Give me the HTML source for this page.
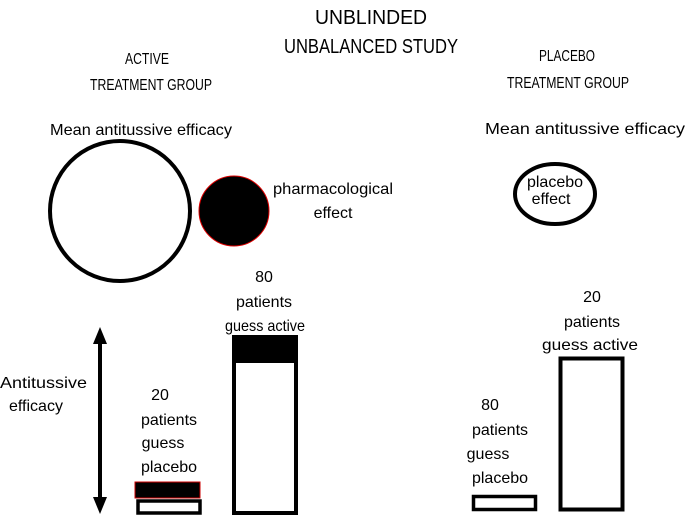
<!DOCTYPE html>
<html><head><meta charset="utf-8"><style>
html,body{margin:0;padding:0;background:#fff;}
svg{display:block;}
text{font-family:"Liberation Sans",sans-serif;fill:#000;}
</style></head><body>
<svg width="685" height="516" viewBox="0 0 685 516" xmlns="http://www.w3.org/2000/svg">
<g font-size="20" text-anchor="middle">
<text x="371" y="24" textLength="112" lengthAdjust="spacingAndGlyphs">UNBLINDED</text>
<text x="371" y="53" textLength="174" lengthAdjust="spacingAndGlyphs">UNBALANCED STUDY</text>
</g>
<g font-size="16" text-anchor="middle">
<text x="147" y="64" textLength="44" lengthAdjust="spacingAndGlyphs">ACTIVE</text>
<text x="151" y="90" textLength="122" lengthAdjust="spacingAndGlyphs">TREATMENT GROUP</text>
<text x="141" y="135" textLength="182" lengthAdjust="spacingAndGlyphs">Mean antitussive efficacy</text>
<text x="567" y="61" textLength="56" lengthAdjust="spacingAndGlyphs">PLACEBO</text>
<text x="568" y="88" textLength="122" lengthAdjust="spacingAndGlyphs">TREATMENT GROUP</text>
<text x="585" y="134" textLength="200" lengthAdjust="spacingAndGlyphs">Mean antitussive efficacy</text>

<text x="117" y="204">placebo</text>
<text x="117" y="226">effect</text>
<text x="333" y="194" textLength="120" lengthAdjust="spacingAndGlyphs">pharmacological</text>
<text x="333" y="218">effect</text>

<text x="555" y="187">placebo</text>
<text x="551" y="204">effect</text>

<text x="264" y="282">80</text>
<text x="264" y="307">patients</text>
<text x="265" y="331" textLength="80" lengthAdjust="spacingAndGlyphs">guess active</text>

<text x="592" y="302">20</text>
<text x="592" y="327">patients</text>
<text x="590" y="350" textLength="96" lengthAdjust="spacingAndGlyphs">guess active</text>

<text x="160" y="400">20</text>
<text x="169" y="425">patients</text>
<text x="163" y="448">guess</text>
<text x="169" y="472">placebo</text>

<text x="490" y="410">80</text>
<text x="500" y="435">patients</text>
<text x="488" y="459">guess</text>
<text x="500" y="483">placebo</text>
</g>
<g font-size="16">
<text x="0" y="388" textLength="87" lengthAdjust="spacingAndGlyphs">Antitussive</text>
<text x="9" y="411">efficacy</text>
</g>

<circle cx="120" cy="211" r="70" fill="#fff" stroke="#000" stroke-width="4"/>
<circle cx="234" cy="211" r="35" fill="#000" stroke="#d00" stroke-width="1"/>
<ellipse cx="555" cy="194" rx="40" ry="30" fill="none" stroke="#000" stroke-width="4"/>

<!-- arrow -->
<line x1="100" y1="340" x2="100" y2="500" stroke="#000" stroke-width="4"/>
<polygon points="100,327 93,344 107,344" fill="#000"/>
<polygon points="100,514 93,497 107,497" fill="#000"/>

<!-- left bars -->
<rect x="135" y="482" width="65" height="16" fill="#000" stroke="#c00" stroke-width="1"/>
<rect x="138" y="501" width="62" height="12" fill="#fff" stroke="#000" stroke-width="3.5"/>
<rect x="234" y="337" width="62" height="176" fill="#fff" stroke="#000" stroke-width="4"/>
<rect x="232" y="335" width="66" height="28" fill="#000"/>

<!-- right bars -->
<rect x="473.5" y="496.5" width="62" height="13" fill="#fff" stroke="#000" stroke-width="3.5"/>
<rect x="560.5" y="358.5" width="62" height="151" fill="#fff" stroke="#000" stroke-width="4"/>
</svg>
</body></html>
